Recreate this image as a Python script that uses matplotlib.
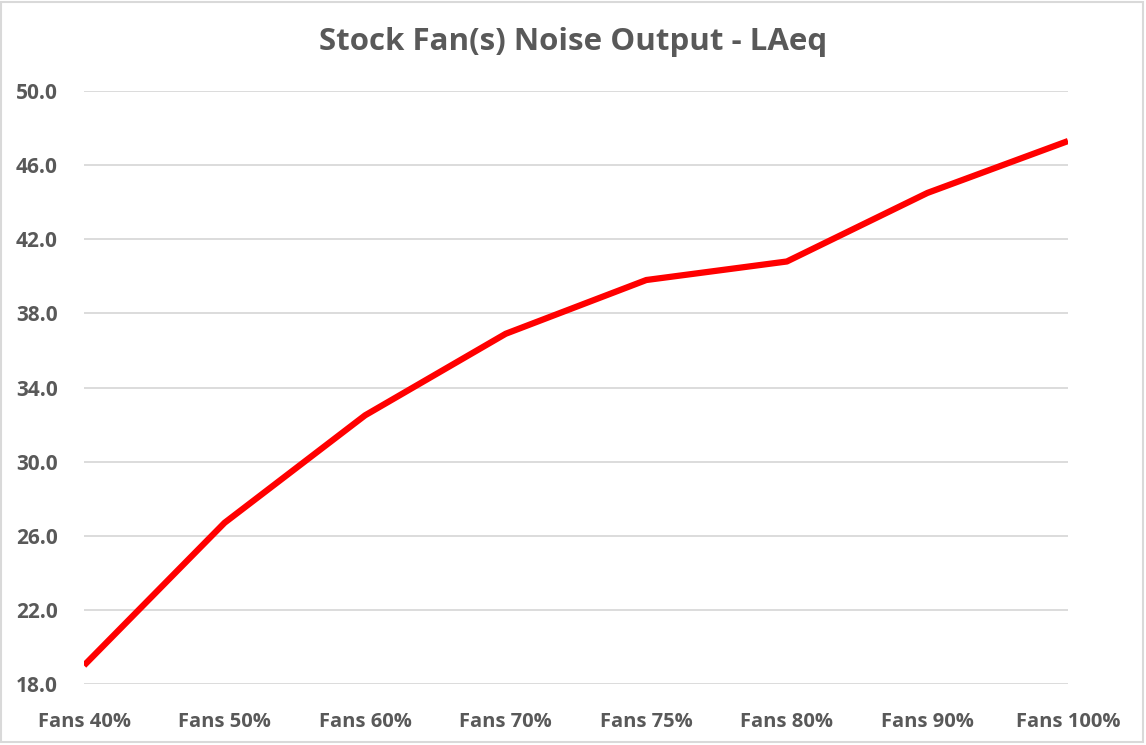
import matplotlib
matplotlib.use("Agg")
import matplotlib.pyplot as plt
from matplotlib.patches import Rectangle

categories = ["Fans 40%", "Fans 50%", "Fans 60%", "Fans 70%", "Fans 75%",
              "Fans 80%", "Fans 90%", "Fans 100%"]
laeq = [19.0, 26.7, 32.5, 36.9, 39.8, 40.8, 44.5, 47.3]
y_ticks = [18.0, 22.0, 26.0, 30.0, 34.0, 38.0, 42.0, 46.0, 50.0]

TEXT = "#595959"
GRID = "#d9d9d9"

plt.rcParams["font.family"] = ["Open Sans", "DejaVu Sans"]

fig = plt.figure(figsize=(11.46, 7.45), dpi=100)
ax = fig.add_axes([84 / 1146, 1 - 684 / 745, (1068 - 84) / 1146, (684 - 91) / 745])

x = list(range(len(categories)))
ax.plot(x, laeq, color="#ff0000", linewidth=4.5, solid_capstyle="butt", zorder=3)

ax.set_xlim(0, len(categories) - 1)
ax.set_ylim(18, 50)
ax.set_yticks(y_ticks)
ax.set_yticklabels([f"{v:.1f}" for v in y_ticks])
ax.set_xticks(x)
ax.set_xticklabels(categories)
ax.grid(axis="y", color=GRID, linewidth=1.3)
ax.set_axisbelow(True)
for s in ax.spines.values():
    s.set_visible(False)
ax.tick_params(length=0, colors=TEXT)
ax.tick_params(axis="y", pad=19, labelsize=15)
ax.tick_params(axis="x", pad=20, labelsize=14.5)
for lab in ax.get_xticklabels() + ax.get_yticklabels():
    lab.set_fontweight("bold")

fig.text(0.5, 1 - 42 / 745, "Stock Fan(s) Noise Output - LAeq", ha="center", va="center",
         fontsize=22.5, fontweight="bold", color=TEXT)

fig.patches.append(Rectangle((1 / 1146, 3 / 745), 1142 / 1146, 740 / 745,
                             transform=fig.transFigure, fill=False,
                             edgecolor=GRID, linewidth=1.5))

fig.savefig("out.png", dpi=100)
